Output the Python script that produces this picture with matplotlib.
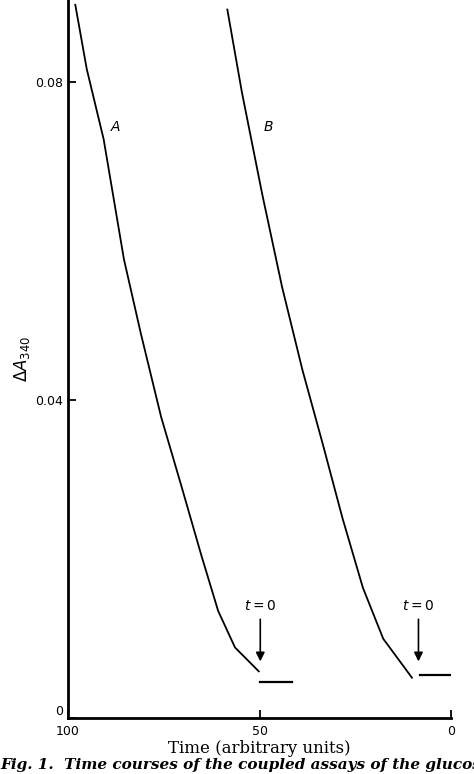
import matplotlib
matplotlib.use("Agg")
import matplotlib.pyplot as plt

# curve A (time, dA340)
a_t = [98.1, 95.1, 90.7, 85.4, 81.0, 75.7, 70.4, 65.2, 60.8, 56.4, 50.2]
a_y = [0.0897, 0.0816, 0.0728, 0.0577, 0.0484, 0.0379, 0.0292, 0.0205, 0.0135, 0.0089, 0.0059]
# curve B
b_t = [58.4, 54.6, 49.3, 44.1, 38.8, 33.5, 28.3, 23.0, 17.7, 10.2]
b_y = [0.0891, 0.0787, 0.0659, 0.0542, 0.0438, 0.0345, 0.0251, 0.0164, 0.0100, 0.0051]
# baselines after t = 0
a_base_t = [49.8, 41.4]
a_base_y = [0.0045, 0.0045]
b_base_t = [8.2, 0.3]
b_base_y = [0.0055, 0.0055]
arrow_t = [49.8, 8.5]

fig = plt.figure(figsize=(4.74, 7.74), dpi=100)
ax = fig.add_axes([0.1435, 0.072, 0.808, 0.928])

ax.plot(a_t, a_y, color="black", lw=1.3)
ax.plot(b_t, b_y, color="black", lw=1.3)
ax.plot(a_base_t, a_base_y, color="black", lw=1.6)
ax.plot(b_base_t, b_base_y, color="black", lw=1.6)

for t in arrow_t:
    ax.annotate("", xy=(t, 0.0068), xytext=(t, 0.0128),
                arrowprops=dict(arrowstyle="-|>", color="black", lw=1.2,
                                mutation_scale=13))
    ax.text(t, 0.0132, r"$t = 0$", ha="center", va="bottom", fontsize=10,
            family="serif")

ax.text(88.8, 0.0738, "A", style="italic", fontsize=10, family="DejaVu Sans")
ax.text(48.8, 0.0738, "B", style="italic", fontsize=10, family="DejaVu Sans")

ax.set_xlim(100, 0)
ax.set_ylim(0, 0.0903)
ax.set_xticks([100, 50, 0])
ax.set_xticklabels(["100", "50", "0"])
ax.set_yticks([0, 0.04, 0.08])
ax.set_yticklabels(["0", "0.04", "0.08"])
ax.tick_params(direction="in", length=6, width=1.3, labelsize=9)
ax.tick_params(axis="x", pad=5)
ax.get_yticklabels()[0].set_verticalalignment("bottom")
for s in ["top", "right"]:
    ax.spines[s].set_visible(False)
for s in ["left", "bottom"]:
    ax.spines[s].set_linewidth(2)

ax.set_xlabel("Time (arbitrary units)", family="serif", fontsize=12, labelpad=1)
ax.set_ylabel(r"$\Delta A_{340}$", fontsize=12, labelpad=2)

fig.text(0.0, 0.003, "Fig. 1.  Time courses of the coupled assays of the glucose",
         family="serif", fontsize=11, fontweight="bold", style="italic", va="bottom")

fig.savefig("out.png", dpi=100)
